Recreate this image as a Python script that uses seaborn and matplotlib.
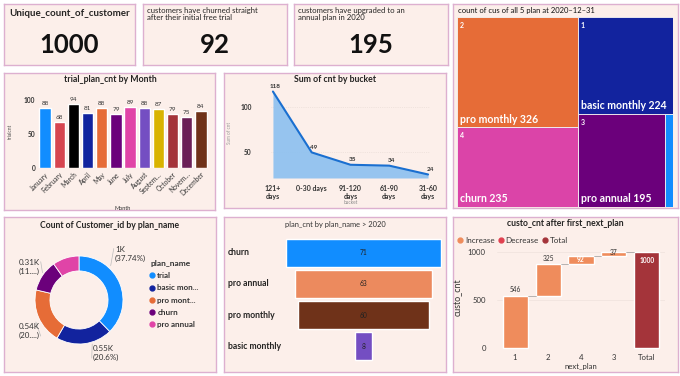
import matplotlib
matplotlib.use('Agg')
import matplotlib.pyplot as plt
import matplotlib.transforms as mtransforms
import seaborn as sns
import numpy as np
import pandas as pd
from matplotlib.lines import Line2D

sns.set_theme(style='white')
plt.rcParams['font.family'] = ['Lato', 'DejaVu Sans']

# ---------------- data ----------------
card_titles = ["Unique_count_of_customer",
               "customers have churned straight\nafter their initial free trial",
               "customers have upgraded to an\nannual plan in 2020"]
card_values = [1000, 92, 195]

months = ["January", "February", "March", "April", "May", "June", "July",
          "August", "September", "October", "November", "December"]
month_ticks = ["January", "February", "March", "April", "May", "June", "July",
               "August", "Septem...", "October", "Novem...", "December"]
trial_cnt = [88, 68, 94, 81, 88, 79, 89, 88, 87, 79, 75, 84]

buckets = ["121+\ndays", "0-30 days", "91-120\ndays", "61-90\ndays", "31-60\ndays"]
bucket_cnt = [118, 49, 35, 34, 24]

tree_plans = ["pro monthly", "basic monthly", "pro annual", "churn", "trial"]
tree_counts = [326, 224, 195, 235, 19]
tree_rank = ["2", "1", "3", "4", ""]

donut_plans = ["trial", "basic monthly", "pro monthly", "churn", "pro annual"]
donut_counts = [1000, 546, 539, 307, 258]
donut_legend = ["trial", "basic mon...", "pro mont...", "churn", "pro annual"]
donut_labels = ["1K\n(37.74%)", "0.55K\n(20.6%)", "0.54K\n(20....)", "0.31K\n(11....)", ""]

funnel_plans = ["churn", "pro annual", "pro monthly", "basic monthly"]
funnel_cnt = [71, 63, 60, 8]

wf_steps = ["1", "2", "4", "3"]
wf_values = [546, 325, 92, 37]

# ---------------- styles ----------------
W, H = 680, 376
PANEL = '#FCEFEA'
BORDER = '#DDB0D0'
TXT = '#252423'

month_colors = ['#118DFF', '#D64550', '#000000', '#12239E', '#E66C37', '#6B007B',
                '#E044A7', '#744EC2', '#D9B300', '#A4343A', '#6B1F56', '#6F3219']
tree_colors = {'pro monthly': '#E66C37', 'basic monthly': '#12239E',
               'pro annual': '#6B007B', 'churn': '#DB44A8', 'trial': '#118DFF'}
donut_colors = ['#118DFF', '#12239E', '#E66C37', '#6B007B', '#E044A7']
funnel_colors = ['#118DFF', '#EC8A5E', '#6F3219', '#744EC2']
WF_INC = '#EF8C5C'
WF_DEC = '#E0404F'
WF_TOT = '#A4343A'


def frac(x0, y0, x1, y1):
    return [x0 / W, 1 - y1 / H, (x1 - x0) / W, (y1 - y0) / H]


def ftext(x, y, s, **kw):
    kw.setdefault('color', TXT)
    fig.text(x / W, 1 - y / H, s, **kw)


fig = plt.figure(figsize=(6.8, 3.76), dpi=100)
fig.patch.set_facecolor('white')


def panel(x0, y0, x1, y1):
    a = fig.add_axes(frac(x0, y0, x1, y1))
    a.set_facecolor(PANEL)
    a.set_xticks([]); a.set_yticks([])
    for s in a.spines.values():
        s.set_color(BORDER); s.set_linewidth(1.0)
    a.set_zorder(0)
    return a


def inner(x0, y0, x1, y1):
    a = fig.add_axes(frac(x0, y0, x1, y1))
    a.set_facecolor('none')
    for s in a.spines.values():
        s.set_visible(False)
    a.set_zorder(1)
    return a


# ---------------- cards ----------------
cards = [(4, 4, 135, 65), (143, 4, 287, 65), (294, 4, 448, 65)]
for i, (x0, y0, x1, y1) in enumerate(cards):
    panel(x0, y0, x1, y1)
    if i == 0:
        ftext(x0 + 5, y0 + 9, card_titles[i], fontsize=7, fontweight='bold', va='center')
    else:
        ftext(x0 + 4, y0 + 10, card_titles[i], fontsize=5.6, va='center', linespacing=1.15)
    ftext((x0 + x1) / 2, y0 + 41, str(card_values[i]), fontsize=18.5, fontweight='bold',
          ha='center', va='center', color='#111111')

# ---------------- bar chart by month ----------------
panel(4, 73, 215, 210)
ftext(110, 80, "trial_plan_cnt by Month", fontsize=6.3, fontweight='bold', ha='center', va='center')
ax = inner(38, 95, 208, 168)
df_m = pd.DataFrame({'Month': months, 'trialcnt': trial_cnt})
sns.barplot(data=df_m, x='Month', y='trialcnt', hue='Month', palette=month_colors,
            legend=False, ax=ax, width=0.8, saturation=1)
ax.set_ylim(0, 107)
ax.set_xlim(-0.5, 11.5)
for i, v in enumerate(trial_cnt):
    ax.text(i, v + 3, str(v), ha='center', va='bottom', fontsize=4.6, color='#333333')
ax.set_yticks([0, 50, 100])
ax.set_yticklabels(['0', '50', '100'], fontsize=4.8, color='#333333', fontweight='bold')
ax.set_xticks(range(12))
ax.set_xticklabels(month_ticks, rotation=45, ha='right', rotation_mode='anchor',
                   fontsize=4.8, color='#333333')
ax.tick_params(length=0, pad=2)
ax.set_xlabel('Month', fontsize=4, color='#333333', labelpad=6)
ax.set_ylabel('trialcnt', fontsize=3.5, color='#555555', labelpad=8)

# ---------------- area chart ----------------
panel(224, 73, 446, 208)
ftext(335, 80, "Sum of cnt by bucket", fontsize=6.3, fontweight='bold', ha='center', va='center')
ax = inner(271, 88, 430, 178)
xs = np.arange(len(buckets))
ax.set_ylim(20, 122)
ax.set_xlim(-0.05, 4.05)
for g in [50, 100]:
    ax.axhline(g, color='#e5d8d2', lw=0.5, ls=':', zorder=0)
ax.fill_between(xs, bucket_cnt, 20, color='#8BC0F0', alpha=0.9, lw=0)
sns.lineplot(x=xs, y=bucket_cnt, ax=ax, color='#1A6FD0', lw=1.5)
for x, v in zip(xs, bucket_cnt):
    ax.text(x + 0.05, v + 3, str(v), ha='center', va='bottom', fontsize=4.6,
            color='#333333', fontweight='bold')
ax.set_yticks([50, 100])
ax.set_yticklabels(['50', '100'], fontsize=4.8, color='#333333', fontweight='bold')
ax.set_xticks(xs)
ax.set_xticklabels(buckets, fontsize=5.0, color='#333333', fontweight='bold', linespacing=1.1)
ax.tick_params(length=0, pad=5)
ax.tick_params(axis='y', pad=14)
ax.set_xlabel('bucket', fontsize=3.4, color='#888888', labelpad=0.5)
ax.set_ylabel('Sum of cnt', fontsize=3.3, color='#999999', labelpad=6)

# ---------------- treemap ----------------
panel(453, 4, 678, 208)
ftext(458, 10, "count of cus of all 5 plan at 2020\u201312\u201331", fontsize=5.5, va='center',
      color='#111111')
ax = inner(457, 17, 673, 207)
cnt = dict(zip(tree_plans, tree_counts))
total = sum(tree_counts)
wl = (cnt['pro monthly'] + cnt['churn']) / total
h_pm = cnt['pro monthly'] / (cnt['pro monthly'] + cnt['churn'])
rest = total - cnt['pro monthly'] - cnt['churn']
h_bm = cnt['basic monthly'] / rest
w_pa = cnt['pro annual'] / (cnt['pro annual'] + cnt['trial'])
tiles = {
    'pro monthly': (0, 1 - h_pm, wl, h_pm),
    'churn': (0, 0, wl, 1 - h_pm),
    'basic monthly': (wl, 1 - h_bm, 1 - wl, h_bm),
    'pro annual': (wl, 0, (1 - wl) * w_pa, 1 - h_bm),
    'trial': (wl + (1 - wl) * w_pa, 0, (1 - wl) * (1 - w_pa), 1 - h_bm),
}
for p, c, r in zip(tree_plans, tree_counts, tree_rank):
    x, y, w, h = tiles[p]
    ax.bar(x, h, width=w, bottom=y, align='edge', color=tree_colors[p],
           edgecolor='#f4f4f4', linewidth=0.6)
    if r:
        ax.text(x + 0.012, y + h - 0.025, r, fontsize=5, color='white', fontweight='bold',
                ha='left', va='top')
        ax.text(x + 0.012, y + 0.015, f"{p} {c}", fontsize=7.6, color='white',
                fontweight='bold', ha='left', va='bottom')
ax.set_xlim(0, 1); ax.set_ylim(0, 1)
ax.set_xticks([]); ax.set_yticks([])

# ---------------- donut ----------------
panel(4, 217, 216, 372)
ftext(110, 226, "Count of Customer_id by plan_name", fontsize=6.2, fontweight='bold',
      ha='center', va='center')
ax = inner(35, 256, 123, 344)
wedges, _ = ax.pie(donut_counts, colors=donut_colors, startangle=90, counterclock=False,
                   wedgeprops=dict(width=0.34, edgecolor='white', linewidth=0.6))
ax.set_xlim(-1, 1); ax.set_ylim(-1, 1)
label_pos = [(0.82, 1.05, 'left'), (0.32, -1.2, 'left'), (-0.9, -0.7, 'right'),
             (-0.9, 0.75, 'right')]
leader_from = [(0.72, 0.78), (0.3, -1.0), (-0.98, -0.5), (-0.83, 0.62)]
for lab, (tx, ty, ha), (fx, fy) in zip(donut_labels, label_pos, leader_from):
    ax.text(tx, ty, lab, fontsize=5.8, ha=ha, va='center', color='#333333',
            clip_on=False, linespacing=1.3, multialignment='left')
    ax.plot([fx, tx - (0.03 if ha == 'left' else -0.03)], [fy, ty + 0.12 * np.sign(ty)],
            color='#bbbbbb', lw=0.5, clip_on=False)
handles = [Line2D([0], [0], marker='o', ls='', color=c, markersize=3.5) for c in donut_colors]
leg = ax.legend(handles, donut_legend, title='plan_name', loc='upper left',
                bbox_to_anchor=(146 / W, 1 - 256 / H), bbox_transform=fig.transFigure,
                frameon=False, fontsize=5.8, title_fontsize=6, handlelength=0.6,
                handletextpad=0.3, labelspacing=0.65, alignment='left', borderpad=0)
leg.get_title().set_color('#333333')
leg.get_title().set_fontweight('bold')
for t in leg.get_texts():
    t.set_color('#333333'); t.set_fontweight('bold')

# ---------------- funnel ----------------
panel(224, 217, 446, 372)
ftext(335, 224, "plan_cnt by plan_name > 2020", fontsize=5.4, ha='center', va='center',
      color='#333333')
ax = inner(285, 237, 442, 362)
ypos = np.arange(len(funnel_plans))
ax.barh(ypos, funnel_cnt, left=[-v / 2 for v in funnel_cnt], height=0.9,
        color=funnel_colors)
lab_tr = mtransforms.blended_transform_factory(fig.transFigure, ax.transData)
for y, v in zip(ypos, funnel_cnt):
    ax.text(0, y, str(v), ha='center', va='center', fontsize=4.8, color='#222222')
    ax.text(228 / W, y, funnel_plans[y], ha='left', va='center', fontsize=6.2,
            color='#252423', fontweight='bold', clip_on=False, transform=lab_tr)
ax.set_xlim(-36, 36); ax.set_ylim(3.5, -0.5)
ax.set_xticks([]); ax.set_yticks([])

# ---------------- waterfall ----------------
panel(453, 217, 678, 372)
ftext(565, 224, "custo_cnt after first_next_plan", fontsize=6.2, fontweight='bold',
      ha='center', va='center')
ax = inner(497, 245, 665, 350)
cum = np.cumsum(wf_values)
bottoms = cum - np.array(wf_values)
cats = wf_steps + ['Total']
for g in [500, 1000]:
    ax.axhline(g, color='#eee2dc', lw=0.5, zorder=0)
ax.bar(range(len(wf_values)), wf_values, bottom=bottoms, width=0.76, color=WF_INC)
ax.bar([len(wf_values)], [cum[-1]], width=0.76, color=WF_TOT)
for i in range(len(wf_values)):
    ax.plot([i + 0.38, i + 0.62], [cum[i], cum[i]], color='#9a9a9a', lw=0.5)
for i, v in enumerate(wf_values):
    if v > 200:
        ax.text(i, cum[i] + 25, str(v), ha='center', va='bottom', fontsize=4.8, color='#333333')
    elif v > 60:
        ax.text(i, bottoms[i] + v / 2, str(v), ha='center', va='center', fontsize=4.8,
                color='white', fontweight='bold')
    else:
        ax.text(i, cum[i] - 5, str(v), ha='center', va='center', fontsize=4.8, color='#333333')
ax.text(len(wf_values), cum[-1] - 90, str(cum[-1]), ha='center', va='center', fontsize=4.8,
        color='white', fontweight='bold')
ax.set_xlim(-0.55, 4.55); ax.set_ylim(-22, 1073)
ax.set_xticks(range(len(cats)))
ax.set_xticklabels(cats, fontsize=5.6, color='#333333')
ax.set_yticks([0, 500, 1000])
ax.set_yticklabels(['0', '500', '1000'], fontsize=5.6, color='#333333')
ax.tick_params(length=0, pad=3)
ax.tick_params(axis='y', pad=8)
ax.set_xlabel('next_plan', fontsize=5.6, color='#333333', labelpad=1)
ax.set_ylabel('custo_cnt', fontsize=6.4, color='#333333', labelpad=4)
wf_handles = [Line2D([0], [0], marker='o', ls='', color=c, markersize=3.5)
              for c in [WF_INC, WF_DEC, WF_TOT]]
wl_ = ax.legend(wf_handles, ['Increase', 'Decrease', 'Total'], loc='upper left',
                bbox_to_anchor=(454 / W, 1 - 233 / H), bbox_transform=fig.transFigure,
                ncol=3, frameon=False, fontsize=5.8, handlelength=0.6, handletextpad=0.25,
                columnspacing=0.5, borderpad=0)
for t in wl_.get_texts():
    t.set_color('#333333')

fig.savefig('out.png', dpi=100, facecolor='white')
